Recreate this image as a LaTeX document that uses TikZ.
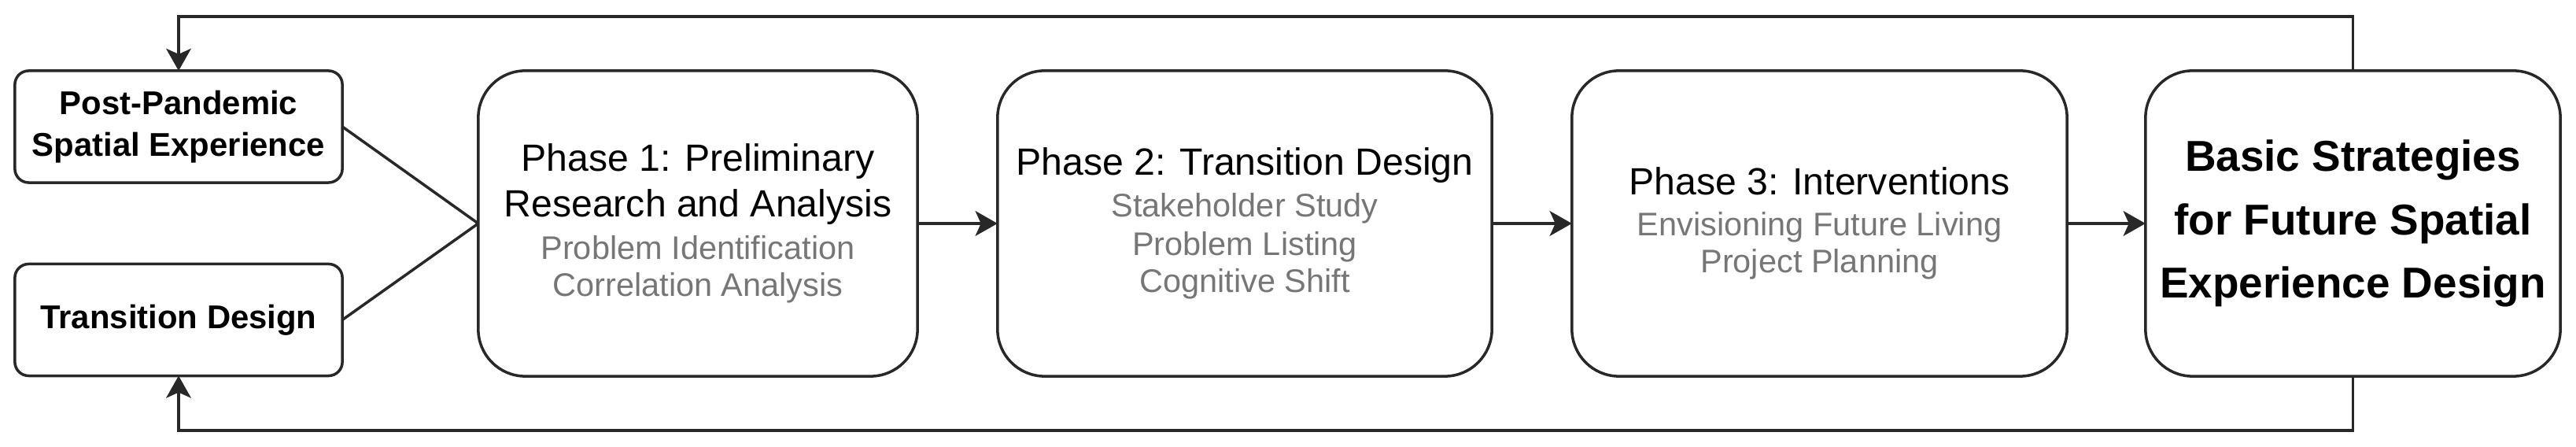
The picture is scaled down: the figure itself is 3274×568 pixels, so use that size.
\documentclass[tikz,border=0pt]{standalone}
\usepackage{fontspec}
\setmainfont{Liberation Sans}
\usetikzlibrary{arrows.meta}
\definecolor{subgray}{RGB}{118,118,118}
\definecolor{linegray}{RGB}{40,40,40}
\newcommand{\arw}{-{Stealth[length=8pt,width=9pt,inset=2pt]}}
\newcommand{\phaseitem}[1]{{\color{subgray}\fontsize{11.8}{13.2}\selectfont #1}}

\begin{document}
\begin{tikzpicture}[x=.01cm,y=-.01cm,line width=1pt,draw=linegray,
  inbox/.style={draw,rounded corners=5pt,inner sep=0pt,outer sep=0pt,
    minimum width=4.16cm,minimum height=1.42cm,align=center,
    font=\bfseries\fontsize{11.9}{15}\selectfont},
  phase/.style={draw,rounded corners=17pt,inner sep=0pt,outer sep=0pt,
    minimum height=3.88cm,align=center,
    font=\fontsize{13.7}{16.5}\selectfont}]
\useasboundingbox (0,0) rectangle (3274,568);
%inputs
\node[inbox] (ppse) at (227,161) {Post-Pandemic\\Spatial Experience};
\node[inbox] (td) at (227,406.5) {Transition Design};
%phases
\node[phase,minimum width=5.58cm] (ph1) at (887,284)
  {Phase 1: Preliminary\\Research and Analysis\\[-1.2pt]
   \phaseitem{Problem Identification}\\[-3.2pt]
   \phaseitem{Correlation Analysis}};
\node[phase,minimum width=6.28cm] (ph2) at (1582,284)
  {Phase 2: Transition Design\\[-1.6pt]
   \phaseitem{Stakeholder Study}\\[-2.4pt]
   \phaseitem{Problem Listing}\\[-3.2pt]
   \phaseitem{Cognitive Shift}};
\node[phase,minimum width=6.29cm] (ph3) at (2312.5,284)
  {Phase 3: Interventions\\[-1.6pt]
   \phaseitem{Envisioning Future Living}\\[-3.2pt]
   \phaseitem{Project Planning}};
\node[phase,minimum width=5.27cm,font=\bfseries\fontsize{15.6}{23}\selectfont] (bs) at (2990.5,284)
  {Basic Strategies\\for Future Spatial\\Experience Design};
%links
\draw (ppse.east) -- (ph1.west);
\draw (td.east) -- (ph1.west);
\draw[\arw] (ph1.east) -- (ph2.west);
\draw[\arw] (ph2.east) -- (ph3.west);
\draw[\arw] (ph3.east) -- (bs.west);
%feedback
\draw[\arw] (bs.north) -- ++(0,-69) -| (ppse.north);
\draw[\arw] (bs.south) -- ++(0,69) -| (td.south);
\end{tikzpicture}
\end{document}
